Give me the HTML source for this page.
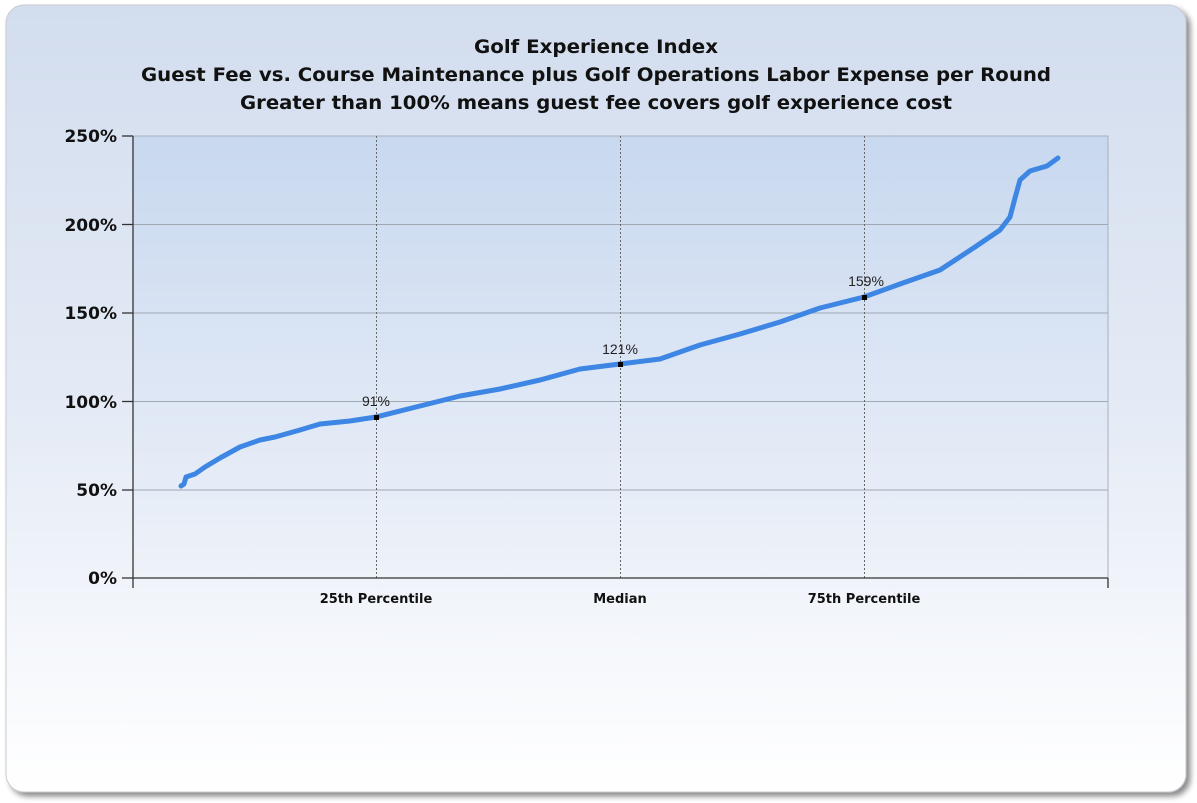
<!DOCTYPE html>
<html><head><meta charset="utf-8"><style>
html,body{margin:0;padding:0;background:#fff;}
svg{display:block;}
</style></head><body>
<svg width="1197" height="803" viewBox="0 0 1197 803" xmlns="http://www.w3.org/2000/svg" font-family="'DejaVu Sans','Liberation Sans',sans-serif">
<defs>
<linearGradient id="bg" x1="0" y1="0" x2="0" y2="1">
<stop offset="0" stop-color="#d2ddee"/><stop offset="0.55" stop-color="#e6ecf6"/><stop offset="1" stop-color="#ffffff"/>
</linearGradient>
<linearGradient id="pa" x1="0" y1="0" x2="0" y2="1">
<stop offset="0" stop-color="#c8d8ef"/><stop offset="1" stop-color="#eef2f9"/>
</linearGradient>
<filter id="sh" x="-5%" y="-5%" width="110%" height="110%"><feDropShadow dx="4" dy="4" stdDeviation="3" flood-color="#000" flood-opacity="0.45"/></filter>
</defs>
<rect x="0" y="0" width="1197" height="803" fill="#fff"/>
<rect x="6" y="5" width="1180" height="787" rx="18" fill="url(#bg)" stroke="#c8ccd4" filter="url(#sh)"/>
<g font-weight="bold" fill="#111" text-anchor="middle" font-size="19">
<text x="596" y="53" textLength="244" lengthAdjust="spacingAndGlyphs">Golf Experience Index</text>
<text x="596" y="81" textLength="910" lengthAdjust="spacingAndGlyphs">Guest Fee vs. Course Maintenance plus Golf Operations Labor Expense per Round</text>
<text x="596" y="109" textLength="712" lengthAdjust="spacingAndGlyphs">Greater than 100% means guest fee covers golf experience cost</text>
</g>
<rect x="133" y="136" width="975" height="442" fill="url(#pa)" stroke="#a8b0bc"/>
<g stroke="#a0a8b4" stroke-width="1">
<line x1="133" y1="224.5" x2="1108" y2="224.5"/>
<line x1="133" y1="313" x2="1108" y2="313"/>
<line x1="133" y1="401.5" x2="1108" y2="401.5"/>
<line x1="133" y1="490" x2="1108" y2="490"/>
</g>
<g stroke="#666" stroke-width="1" stroke-dasharray="2,2">
<line x1="376.5" y1="136" x2="376.5" y2="578"/>
<line x1="620.5" y1="136" x2="620.5" y2="578"/>
<line x1="864.5" y1="136" x2="864.5" y2="578"/>
</g>
<g stroke="#333" stroke-width="1.3">
<line x1="133" y1="136" x2="133" y2="588"/>
<line x1="133" y1="578" x2="1108" y2="578"/>
<line x1="1108" y1="578" x2="1108" y2="588"/>
<line x1="122" y1="136" x2="133" y2="136"/>
<line x1="122" y1="224.5" x2="133" y2="224.5"/>
<line x1="122" y1="313" x2="133" y2="313"/>
<line x1="122" y1="401.5" x2="133" y2="401.5"/>
<line x1="122" y1="490" x2="133" y2="490"/>
<line x1="122" y1="578" x2="133" y2="578"/>
</g>
<g font-size="17" font-weight="bold" fill="#111" text-anchor="end">
<text x="117" y="142">250%</text>
<text x="117" y="231">200%</text>
<text x="117" y="319">150%</text>
<text x="117" y="408">100%</text>
<text x="117" y="496">50%</text>
<text x="117" y="584">0%</text>
</g>
<g font-size="13" font-weight="bold" fill="#111" text-anchor="middle">
<text x="376" y="603">25th Percentile</text>
<text x="620" y="603">Median</text>
<text x="864" y="603">75th Percentile</text>
</g>
<polyline fill="none" stroke="#3d86e4" stroke-width="5" stroke-linejoin="round" stroke-linecap="round"
points="181,486 184,484 186,477 195,474 205,467 220,458 240,447 260,440 275,437 300,430 320,424 350,421 376,417 420,406 460,396 500,389 540,380 580,369 620,364 660,359 700,345 740,334 780,322 820,308 864,297 900,284 940,270 975,247 1000,230 1010,217 1015,198 1020,180 1030,171 1047,166 1058,158"/>
<g fill="#000">
<rect x="374" y="415" width="5" height="5"/>
<rect x="618" y="362" width="5" height="5"/>
<rect x="862" y="295" width="5" height="5"/>
</g>
<g font-size="14" fill="#222" text-anchor="middle" font-family="'Liberation Sans',sans-serif">
<text x="376" y="406">91%</text>
<text x="620" y="354">121%</text>
<text x="866" y="286">159%</text>
</g>
</svg>
</body></html>
